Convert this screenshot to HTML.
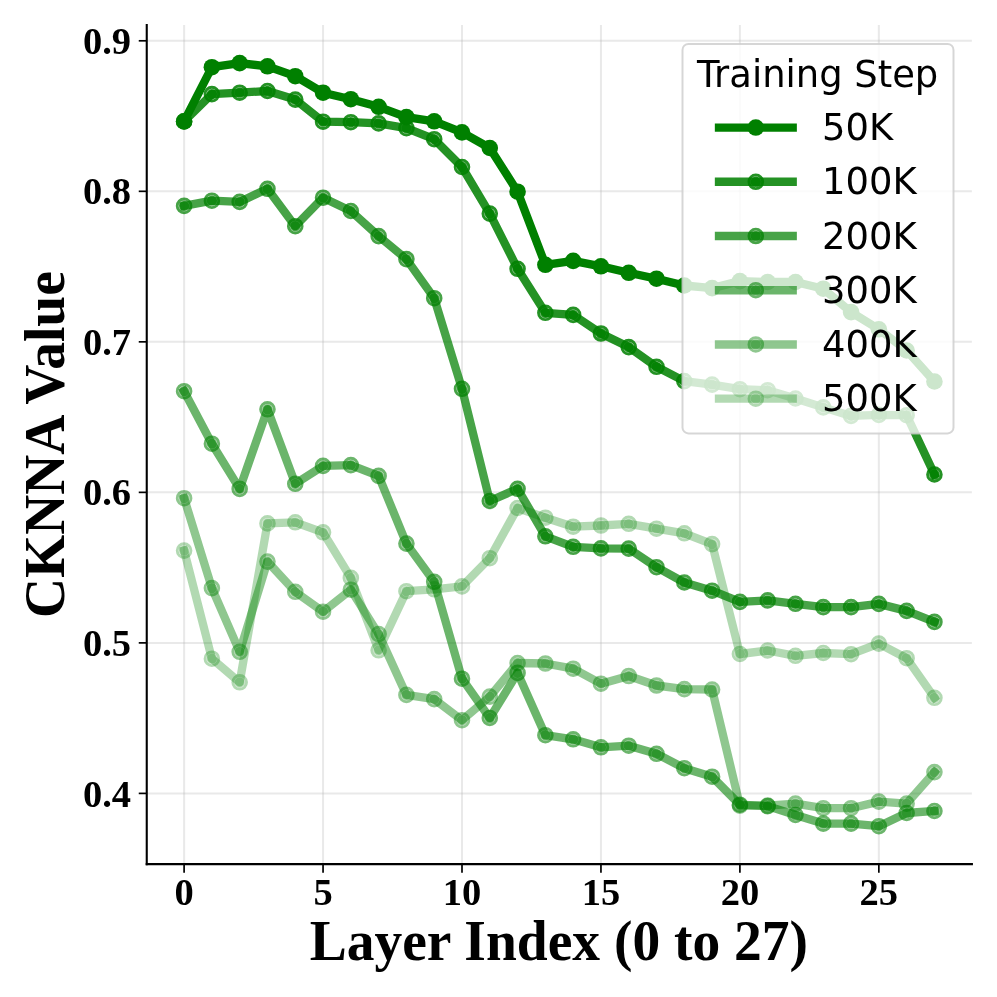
<!DOCTYPE html><html><head><meta charset="utf-8"><title>CKNNA Value vs Layer Index</title><style>html,body{margin:0;padding:0;background:#fff;overflow:hidden;}svg{display:block;}</style></head><body>
<svg width="997" height="997" viewBox="0 0 997 997">
<rect x="0" y="0" width="997" height="997" fill="#ffffff"/>
<defs><clipPath id="ax"><rect x="146.75" y="25.0" width="825.15" height="839.1"/></clipPath></defs>
<g stroke="#b0b0b0" stroke-opacity="0.28" stroke-width="2.0" fill="none">
<line x1="184.10" y1="25.0" x2="184.10" y2="864.1"/>
<line x1="323.05" y1="25.0" x2="323.05" y2="864.1"/>
<line x1="462.00" y1="25.0" x2="462.00" y2="864.1"/>
<line x1="600.95" y1="25.0" x2="600.95" y2="864.1"/>
<line x1="739.90" y1="25.0" x2="739.90" y2="864.1"/>
<line x1="878.85" y1="25.0" x2="878.85" y2="864.1"/>
<line x1="146.75" y1="793.40" x2="971.9" y2="793.40"/>
<line x1="146.75" y1="642.88" x2="971.9" y2="642.88"/>
<line x1="146.75" y1="492.36" x2="971.9" y2="492.36"/>
<line x1="146.75" y1="341.84" x2="971.9" y2="341.84"/>
<line x1="146.75" y1="191.32" x2="971.9" y2="191.32"/>
<line x1="146.75" y1="40.80" x2="971.9" y2="40.80"/>
</g>
<g clip-path="url(#ax)">
<g opacity="1">
<polyline points="184.10,121.40 211.89,67.20 239.68,63.10 267.47,66.30 295.26,76.20 323.05,92.70 350.84,99.20 378.63,106.80 406.42,117.10 434.21,121.30 462.00,132.40 489.79,148.00 517.58,191.70 545.37,264.80 573.16,260.90 600.95,266.30 628.74,272.80 656.53,278.70 684.32,285.50 712.11,288.10 739.90,281.10 767.69,282.00 795.48,282.00 823.27,288.70 851.06,312.10 878.85,329.30 906.64,350.50 934.43,381.50" fill="none" stroke="#008000" stroke-opacity="1.0" stroke-width="8.33" stroke-linejoin="round" stroke-linecap="square"/>
<circle cx="184.10" cy="121.40" r="8.3" fill="#008000"/>
<circle cx="211.89" cy="67.20" r="8.3" fill="#008000"/>
<circle cx="239.68" cy="63.10" r="8.3" fill="#008000"/>
<circle cx="267.47" cy="66.30" r="8.3" fill="#008000"/>
<circle cx="295.26" cy="76.20" r="8.3" fill="#008000"/>
<circle cx="323.05" cy="92.70" r="8.3" fill="#008000"/>
<circle cx="350.84" cy="99.20" r="8.3" fill="#008000"/>
<circle cx="378.63" cy="106.80" r="8.3" fill="#008000"/>
<circle cx="406.42" cy="117.10" r="8.3" fill="#008000"/>
<circle cx="434.21" cy="121.30" r="8.3" fill="#008000"/>
<circle cx="462.00" cy="132.40" r="8.3" fill="#008000"/>
<circle cx="489.79" cy="148.00" r="8.3" fill="#008000"/>
<circle cx="517.58" cy="191.70" r="8.3" fill="#008000"/>
<circle cx="545.37" cy="264.80" r="8.3" fill="#008000"/>
<circle cx="573.16" cy="260.90" r="8.3" fill="#008000"/>
<circle cx="600.95" cy="266.30" r="8.3" fill="#008000"/>
<circle cx="628.74" cy="272.80" r="8.3" fill="#008000"/>
<circle cx="656.53" cy="278.70" r="8.3" fill="#008000"/>
<circle cx="684.32" cy="285.50" r="8.3" fill="#008000"/>
<circle cx="712.11" cy="288.10" r="8.3" fill="#008000"/>
<circle cx="739.90" cy="281.10" r="8.3" fill="#008000"/>
<circle cx="767.69" cy="282.00" r="8.3" fill="#008000"/>
<circle cx="795.48" cy="282.00" r="8.3" fill="#008000"/>
<circle cx="823.27" cy="288.70" r="8.3" fill="#008000"/>
<circle cx="851.06" cy="312.10" r="8.3" fill="#008000"/>
<circle cx="878.85" cy="329.30" r="8.3" fill="#008000"/>
<circle cx="906.64" cy="350.50" r="8.3" fill="#008000"/>
<circle cx="934.43" cy="381.50" r="8.3" fill="#008000"/>
</g>
<g opacity="1">
<polyline points="184.10,121.40 211.89,94.10 239.68,92.70 267.47,91.00 295.26,99.60 323.05,121.70 350.84,122.20 378.63,123.40 406.42,128.10 434.21,139.20 462.00,167.00 489.79,213.60 517.58,268.80 545.37,312.80 573.16,314.90 600.95,333.50 628.74,347.10 656.53,366.80 684.32,381.10 712.11,384.60 739.90,389.20 767.69,390.20 795.48,398.50 823.27,407.40 851.06,415.90 878.85,414.90 906.64,415.20 934.43,474.50" fill="none" stroke="#008000" stroke-opacity="0.86" stroke-width="8.33" stroke-linejoin="round" stroke-linecap="square"/>
<path d="M175.80,121.40a8.3,8.3 0 1,0 16.60,0a8.3,8.3 0 1,0 -16.60,0ZM178.68,121.40a5.42,5.42 0 1,0 10.84,0a5.42,5.42 0 1,0 -10.84,0ZM178.94,121.40a5.16,5.16 0 1,0 10.32,0a5.16,5.16 0 1,0 -10.32,0Z" fill="#008000" fill-opacity="0.86" fill-rule="evenodd"/>
<path d="M203.59,94.10a8.3,8.3 0 1,0 16.60,0a8.3,8.3 0 1,0 -16.60,0ZM206.47,94.10a5.42,5.42 0 1,0 10.84,0a5.42,5.42 0 1,0 -10.84,0ZM206.73,94.10a5.16,5.16 0 1,0 10.32,0a5.16,5.16 0 1,0 -10.32,0Z" fill="#008000" fill-opacity="0.86" fill-rule="evenodd"/>
<path d="M231.38,92.70a8.3,8.3 0 1,0 16.60,0a8.3,8.3 0 1,0 -16.60,0ZM234.26,92.70a5.42,5.42 0 1,0 10.84,0a5.42,5.42 0 1,0 -10.84,0ZM234.52,92.70a5.16,5.16 0 1,0 10.32,0a5.16,5.16 0 1,0 -10.32,0Z" fill="#008000" fill-opacity="0.86" fill-rule="evenodd"/>
<path d="M259.17,91.00a8.3,8.3 0 1,0 16.60,0a8.3,8.3 0 1,0 -16.60,0ZM262.05,91.00a5.42,5.42 0 1,0 10.84,0a5.42,5.42 0 1,0 -10.84,0ZM262.31,91.00a5.16,5.16 0 1,0 10.32,0a5.16,5.16 0 1,0 -10.32,0Z" fill="#008000" fill-opacity="0.86" fill-rule="evenodd"/>
<path d="M286.96,99.60a8.3,8.3 0 1,0 16.60,0a8.3,8.3 0 1,0 -16.60,0ZM289.84,99.60a5.42,5.42 0 1,0 10.84,0a5.42,5.42 0 1,0 -10.84,0ZM290.10,99.60a5.16,5.16 0 1,0 10.32,0a5.16,5.16 0 1,0 -10.32,0Z" fill="#008000" fill-opacity="0.86" fill-rule="evenodd"/>
<path d="M314.75,121.70a8.3,8.3 0 1,0 16.60,0a8.3,8.3 0 1,0 -16.60,0ZM317.63,121.70a5.42,5.42 0 1,0 10.84,0a5.42,5.42 0 1,0 -10.84,0ZM317.89,121.70a5.16,5.16 0 1,0 10.32,0a5.16,5.16 0 1,0 -10.32,0Z" fill="#008000" fill-opacity="0.86" fill-rule="evenodd"/>
<path d="M342.54,122.20a8.3,8.3 0 1,0 16.60,0a8.3,8.3 0 1,0 -16.60,0ZM345.42,122.20a5.42,5.42 0 1,0 10.84,0a5.42,5.42 0 1,0 -10.84,0ZM345.68,122.20a5.16,5.16 0 1,0 10.32,0a5.16,5.16 0 1,0 -10.32,0Z" fill="#008000" fill-opacity="0.86" fill-rule="evenodd"/>
<path d="M370.33,123.40a8.3,8.3 0 1,0 16.60,0a8.3,8.3 0 1,0 -16.60,0ZM373.21,123.40a5.42,5.42 0 1,0 10.84,0a5.42,5.42 0 1,0 -10.84,0ZM373.47,123.40a5.16,5.16 0 1,0 10.32,0a5.16,5.16 0 1,0 -10.32,0Z" fill="#008000" fill-opacity="0.86" fill-rule="evenodd"/>
<path d="M398.12,128.10a8.3,8.3 0 1,0 16.60,0a8.3,8.3 0 1,0 -16.60,0ZM401.00,128.10a5.42,5.42 0 1,0 10.84,0a5.42,5.42 0 1,0 -10.84,0ZM401.26,128.10a5.16,5.16 0 1,0 10.32,0a5.16,5.16 0 1,0 -10.32,0Z" fill="#008000" fill-opacity="0.86" fill-rule="evenodd"/>
<path d="M425.91,139.20a8.3,8.3 0 1,0 16.60,0a8.3,8.3 0 1,0 -16.60,0ZM428.79,139.20a5.42,5.42 0 1,0 10.84,0a5.42,5.42 0 1,0 -10.84,0ZM429.05,139.20a5.16,5.16 0 1,0 10.32,0a5.16,5.16 0 1,0 -10.32,0Z" fill="#008000" fill-opacity="0.86" fill-rule="evenodd"/>
<path d="M453.70,167.00a8.3,8.3 0 1,0 16.60,0a8.3,8.3 0 1,0 -16.60,0ZM456.58,167.00a5.42,5.42 0 1,0 10.84,0a5.42,5.42 0 1,0 -10.84,0ZM456.84,167.00a5.16,5.16 0 1,0 10.32,0a5.16,5.16 0 1,0 -10.32,0Z" fill="#008000" fill-opacity="0.86" fill-rule="evenodd"/>
<path d="M481.49,213.60a8.3,8.3 0 1,0 16.60,0a8.3,8.3 0 1,0 -16.60,0ZM484.37,213.60a5.42,5.42 0 1,0 10.84,0a5.42,5.42 0 1,0 -10.84,0ZM484.63,213.60a5.16,5.16 0 1,0 10.32,0a5.16,5.16 0 1,0 -10.32,0Z" fill="#008000" fill-opacity="0.86" fill-rule="evenodd"/>
<path d="M509.28,268.80a8.3,8.3 0 1,0 16.60,0a8.3,8.3 0 1,0 -16.60,0ZM512.16,268.80a5.42,5.42 0 1,0 10.84,0a5.42,5.42 0 1,0 -10.84,0ZM512.42,268.80a5.16,5.16 0 1,0 10.32,0a5.16,5.16 0 1,0 -10.32,0Z" fill="#008000" fill-opacity="0.86" fill-rule="evenodd"/>
<path d="M537.07,312.80a8.3,8.3 0 1,0 16.60,0a8.3,8.3 0 1,0 -16.60,0ZM539.95,312.80a5.42,5.42 0 1,0 10.84,0a5.42,5.42 0 1,0 -10.84,0ZM540.21,312.80a5.16,5.16 0 1,0 10.32,0a5.16,5.16 0 1,0 -10.32,0Z" fill="#008000" fill-opacity="0.86" fill-rule="evenodd"/>
<path d="M564.86,314.90a8.3,8.3 0 1,0 16.60,0a8.3,8.3 0 1,0 -16.60,0ZM567.74,314.90a5.42,5.42 0 1,0 10.84,0a5.42,5.42 0 1,0 -10.84,0ZM568.00,314.90a5.16,5.16 0 1,0 10.32,0a5.16,5.16 0 1,0 -10.32,0Z" fill="#008000" fill-opacity="0.86" fill-rule="evenodd"/>
<path d="M592.65,333.50a8.3,8.3 0 1,0 16.60,0a8.3,8.3 0 1,0 -16.60,0ZM595.53,333.50a5.42,5.42 0 1,0 10.84,0a5.42,5.42 0 1,0 -10.84,0ZM595.79,333.50a5.16,5.16 0 1,0 10.32,0a5.16,5.16 0 1,0 -10.32,0Z" fill="#008000" fill-opacity="0.86" fill-rule="evenodd"/>
<path d="M620.44,347.10a8.3,8.3 0 1,0 16.60,0a8.3,8.3 0 1,0 -16.60,0ZM623.32,347.10a5.42,5.42 0 1,0 10.84,0a5.42,5.42 0 1,0 -10.84,0ZM623.58,347.10a5.16,5.16 0 1,0 10.32,0a5.16,5.16 0 1,0 -10.32,0Z" fill="#008000" fill-opacity="0.86" fill-rule="evenodd"/>
<path d="M648.23,366.80a8.3,8.3 0 1,0 16.60,0a8.3,8.3 0 1,0 -16.60,0ZM651.11,366.80a5.42,5.42 0 1,0 10.84,0a5.42,5.42 0 1,0 -10.84,0ZM651.37,366.80a5.16,5.16 0 1,0 10.32,0a5.16,5.16 0 1,0 -10.32,0Z" fill="#008000" fill-opacity="0.86" fill-rule="evenodd"/>
<path d="M676.02,381.10a8.3,8.3 0 1,0 16.60,0a8.3,8.3 0 1,0 -16.60,0ZM678.90,381.10a5.42,5.42 0 1,0 10.84,0a5.42,5.42 0 1,0 -10.84,0ZM679.16,381.10a5.16,5.16 0 1,0 10.32,0a5.16,5.16 0 1,0 -10.32,0Z" fill="#008000" fill-opacity="0.86" fill-rule="evenodd"/>
<path d="M703.81,384.60a8.3,8.3 0 1,0 16.60,0a8.3,8.3 0 1,0 -16.60,0ZM706.69,384.60a5.42,5.42 0 1,0 10.84,0a5.42,5.42 0 1,0 -10.84,0ZM706.95,384.60a5.16,5.16 0 1,0 10.32,0a5.16,5.16 0 1,0 -10.32,0Z" fill="#008000" fill-opacity="0.86" fill-rule="evenodd"/>
<path d="M731.60,389.20a8.3,8.3 0 1,0 16.60,0a8.3,8.3 0 1,0 -16.60,0ZM734.48,389.20a5.42,5.42 0 1,0 10.84,0a5.42,5.42 0 1,0 -10.84,0ZM734.74,389.20a5.16,5.16 0 1,0 10.32,0a5.16,5.16 0 1,0 -10.32,0Z" fill="#008000" fill-opacity="0.86" fill-rule="evenodd"/>
<path d="M759.39,390.20a8.3,8.3 0 1,0 16.60,0a8.3,8.3 0 1,0 -16.60,0ZM762.27,390.20a5.42,5.42 0 1,0 10.84,0a5.42,5.42 0 1,0 -10.84,0ZM762.53,390.20a5.16,5.16 0 1,0 10.32,0a5.16,5.16 0 1,0 -10.32,0Z" fill="#008000" fill-opacity="0.86" fill-rule="evenodd"/>
<path d="M787.18,398.50a8.3,8.3 0 1,0 16.60,0a8.3,8.3 0 1,0 -16.60,0ZM790.06,398.50a5.42,5.42 0 1,0 10.84,0a5.42,5.42 0 1,0 -10.84,0ZM790.32,398.50a5.16,5.16 0 1,0 10.32,0a5.16,5.16 0 1,0 -10.32,0Z" fill="#008000" fill-opacity="0.86" fill-rule="evenodd"/>
<path d="M814.97,407.40a8.3,8.3 0 1,0 16.60,0a8.3,8.3 0 1,0 -16.60,0ZM817.85,407.40a5.42,5.42 0 1,0 10.84,0a5.42,5.42 0 1,0 -10.84,0ZM818.11,407.40a5.16,5.16 0 1,0 10.32,0a5.16,5.16 0 1,0 -10.32,0Z" fill="#008000" fill-opacity="0.86" fill-rule="evenodd"/>
<path d="M842.76,415.90a8.3,8.3 0 1,0 16.60,0a8.3,8.3 0 1,0 -16.60,0ZM845.64,415.90a5.42,5.42 0 1,0 10.84,0a5.42,5.42 0 1,0 -10.84,0ZM845.90,415.90a5.16,5.16 0 1,0 10.32,0a5.16,5.16 0 1,0 -10.32,0Z" fill="#008000" fill-opacity="0.86" fill-rule="evenodd"/>
<path d="M870.55,414.90a8.3,8.3 0 1,0 16.60,0a8.3,8.3 0 1,0 -16.60,0ZM873.43,414.90a5.42,5.42 0 1,0 10.84,0a5.42,5.42 0 1,0 -10.84,0ZM873.69,414.90a5.16,5.16 0 1,0 10.32,0a5.16,5.16 0 1,0 -10.32,0Z" fill="#008000" fill-opacity="0.86" fill-rule="evenodd"/>
<path d="M898.34,415.20a8.3,8.3 0 1,0 16.60,0a8.3,8.3 0 1,0 -16.60,0ZM901.22,415.20a5.42,5.42 0 1,0 10.84,0a5.42,5.42 0 1,0 -10.84,0ZM901.48,415.20a5.16,5.16 0 1,0 10.32,0a5.16,5.16 0 1,0 -10.32,0Z" fill="#008000" fill-opacity="0.86" fill-rule="evenodd"/>
<path d="M926.13,474.50a8.3,8.3 0 1,0 16.60,0a8.3,8.3 0 1,0 -16.60,0ZM929.01,474.50a5.42,5.42 0 1,0 10.84,0a5.42,5.42 0 1,0 -10.84,0ZM929.27,474.50a5.16,5.16 0 1,0 10.32,0a5.16,5.16 0 1,0 -10.32,0Z" fill="#008000" fill-opacity="0.86" fill-rule="evenodd"/>
</g>
<g opacity="1">
<polyline points="184.10,205.90 211.89,200.70 239.68,201.90 267.47,188.80 295.26,226.20 323.05,197.70 350.84,211.00 378.63,236.10 406.42,259.10 434.21,298.20 462.00,388.80 489.79,501.00 517.58,488.80 545.37,536.30 573.16,546.80 600.95,548.40 628.74,548.60 656.53,567.20 684.32,582.50 712.11,590.70 739.90,601.90 767.69,600.40 795.48,603.80 823.27,607.10 851.06,607.10 878.85,603.90 906.64,610.90 934.43,621.90" fill="none" stroke="#008000" stroke-opacity="0.72" stroke-width="8.33" stroke-linejoin="round" stroke-linecap="square"/>
<path d="M175.80,205.90a8.3,8.3 0 1,0 16.60,0a8.3,8.3 0 1,0 -16.60,0ZM178.68,205.90a5.42,5.42 0 1,0 10.84,0a5.42,5.42 0 1,0 -10.84,0ZM178.94,205.90a5.16,5.16 0 1,0 10.32,0a5.16,5.16 0 1,0 -10.32,0Z" fill="#008000" fill-opacity="0.72" fill-rule="evenodd"/>
<path d="M203.59,200.70a8.3,8.3 0 1,0 16.60,0a8.3,8.3 0 1,0 -16.60,0ZM206.47,200.70a5.42,5.42 0 1,0 10.84,0a5.42,5.42 0 1,0 -10.84,0ZM206.73,200.70a5.16,5.16 0 1,0 10.32,0a5.16,5.16 0 1,0 -10.32,0Z" fill="#008000" fill-opacity="0.72" fill-rule="evenodd"/>
<path d="M231.38,201.90a8.3,8.3 0 1,0 16.60,0a8.3,8.3 0 1,0 -16.60,0ZM234.26,201.90a5.42,5.42 0 1,0 10.84,0a5.42,5.42 0 1,0 -10.84,0ZM234.52,201.90a5.16,5.16 0 1,0 10.32,0a5.16,5.16 0 1,0 -10.32,0Z" fill="#008000" fill-opacity="0.72" fill-rule="evenodd"/>
<path d="M259.17,188.80a8.3,8.3 0 1,0 16.60,0a8.3,8.3 0 1,0 -16.60,0ZM262.05,188.80a5.42,5.42 0 1,0 10.84,0a5.42,5.42 0 1,0 -10.84,0ZM262.31,188.80a5.16,5.16 0 1,0 10.32,0a5.16,5.16 0 1,0 -10.32,0Z" fill="#008000" fill-opacity="0.72" fill-rule="evenodd"/>
<path d="M286.96,226.20a8.3,8.3 0 1,0 16.60,0a8.3,8.3 0 1,0 -16.60,0ZM289.84,226.20a5.42,5.42 0 1,0 10.84,0a5.42,5.42 0 1,0 -10.84,0ZM290.10,226.20a5.16,5.16 0 1,0 10.32,0a5.16,5.16 0 1,0 -10.32,0Z" fill="#008000" fill-opacity="0.72" fill-rule="evenodd"/>
<path d="M314.75,197.70a8.3,8.3 0 1,0 16.60,0a8.3,8.3 0 1,0 -16.60,0ZM317.63,197.70a5.42,5.42 0 1,0 10.84,0a5.42,5.42 0 1,0 -10.84,0ZM317.89,197.70a5.16,5.16 0 1,0 10.32,0a5.16,5.16 0 1,0 -10.32,0Z" fill="#008000" fill-opacity="0.72" fill-rule="evenodd"/>
<path d="M342.54,211.00a8.3,8.3 0 1,0 16.60,0a8.3,8.3 0 1,0 -16.60,0ZM345.42,211.00a5.42,5.42 0 1,0 10.84,0a5.42,5.42 0 1,0 -10.84,0ZM345.68,211.00a5.16,5.16 0 1,0 10.32,0a5.16,5.16 0 1,0 -10.32,0Z" fill="#008000" fill-opacity="0.72" fill-rule="evenodd"/>
<path d="M370.33,236.10a8.3,8.3 0 1,0 16.60,0a8.3,8.3 0 1,0 -16.60,0ZM373.21,236.10a5.42,5.42 0 1,0 10.84,0a5.42,5.42 0 1,0 -10.84,0ZM373.47,236.10a5.16,5.16 0 1,0 10.32,0a5.16,5.16 0 1,0 -10.32,0Z" fill="#008000" fill-opacity="0.72" fill-rule="evenodd"/>
<path d="M398.12,259.10a8.3,8.3 0 1,0 16.60,0a8.3,8.3 0 1,0 -16.60,0ZM401.00,259.10a5.42,5.42 0 1,0 10.84,0a5.42,5.42 0 1,0 -10.84,0ZM401.26,259.10a5.16,5.16 0 1,0 10.32,0a5.16,5.16 0 1,0 -10.32,0Z" fill="#008000" fill-opacity="0.72" fill-rule="evenodd"/>
<path d="M425.91,298.20a8.3,8.3 0 1,0 16.60,0a8.3,8.3 0 1,0 -16.60,0ZM428.79,298.20a5.42,5.42 0 1,0 10.84,0a5.42,5.42 0 1,0 -10.84,0ZM429.05,298.20a5.16,5.16 0 1,0 10.32,0a5.16,5.16 0 1,0 -10.32,0Z" fill="#008000" fill-opacity="0.72" fill-rule="evenodd"/>
<path d="M453.70,388.80a8.3,8.3 0 1,0 16.60,0a8.3,8.3 0 1,0 -16.60,0ZM456.58,388.80a5.42,5.42 0 1,0 10.84,0a5.42,5.42 0 1,0 -10.84,0ZM456.84,388.80a5.16,5.16 0 1,0 10.32,0a5.16,5.16 0 1,0 -10.32,0Z" fill="#008000" fill-opacity="0.72" fill-rule="evenodd"/>
<path d="M481.49,501.00a8.3,8.3 0 1,0 16.60,0a8.3,8.3 0 1,0 -16.60,0ZM484.37,501.00a5.42,5.42 0 1,0 10.84,0a5.42,5.42 0 1,0 -10.84,0ZM484.63,501.00a5.16,5.16 0 1,0 10.32,0a5.16,5.16 0 1,0 -10.32,0Z" fill="#008000" fill-opacity="0.72" fill-rule="evenodd"/>
<path d="M509.28,488.80a8.3,8.3 0 1,0 16.60,0a8.3,8.3 0 1,0 -16.60,0ZM512.16,488.80a5.42,5.42 0 1,0 10.84,0a5.42,5.42 0 1,0 -10.84,0ZM512.42,488.80a5.16,5.16 0 1,0 10.32,0a5.16,5.16 0 1,0 -10.32,0Z" fill="#008000" fill-opacity="0.72" fill-rule="evenodd"/>
<path d="M537.07,536.30a8.3,8.3 0 1,0 16.60,0a8.3,8.3 0 1,0 -16.60,0ZM539.95,536.30a5.42,5.42 0 1,0 10.84,0a5.42,5.42 0 1,0 -10.84,0ZM540.21,536.30a5.16,5.16 0 1,0 10.32,0a5.16,5.16 0 1,0 -10.32,0Z" fill="#008000" fill-opacity="0.72" fill-rule="evenodd"/>
<path d="M564.86,546.80a8.3,8.3 0 1,0 16.60,0a8.3,8.3 0 1,0 -16.60,0ZM567.74,546.80a5.42,5.42 0 1,0 10.84,0a5.42,5.42 0 1,0 -10.84,0ZM568.00,546.80a5.16,5.16 0 1,0 10.32,0a5.16,5.16 0 1,0 -10.32,0Z" fill="#008000" fill-opacity="0.72" fill-rule="evenodd"/>
<path d="M592.65,548.40a8.3,8.3 0 1,0 16.60,0a8.3,8.3 0 1,0 -16.60,0ZM595.53,548.40a5.42,5.42 0 1,0 10.84,0a5.42,5.42 0 1,0 -10.84,0ZM595.79,548.40a5.16,5.16 0 1,0 10.32,0a5.16,5.16 0 1,0 -10.32,0Z" fill="#008000" fill-opacity="0.72" fill-rule="evenodd"/>
<path d="M620.44,548.60a8.3,8.3 0 1,0 16.60,0a8.3,8.3 0 1,0 -16.60,0ZM623.32,548.60a5.42,5.42 0 1,0 10.84,0a5.42,5.42 0 1,0 -10.84,0ZM623.58,548.60a5.16,5.16 0 1,0 10.32,0a5.16,5.16 0 1,0 -10.32,0Z" fill="#008000" fill-opacity="0.72" fill-rule="evenodd"/>
<path d="M648.23,567.20a8.3,8.3 0 1,0 16.60,0a8.3,8.3 0 1,0 -16.60,0ZM651.11,567.20a5.42,5.42 0 1,0 10.84,0a5.42,5.42 0 1,0 -10.84,0ZM651.37,567.20a5.16,5.16 0 1,0 10.32,0a5.16,5.16 0 1,0 -10.32,0Z" fill="#008000" fill-opacity="0.72" fill-rule="evenodd"/>
<path d="M676.02,582.50a8.3,8.3 0 1,0 16.60,0a8.3,8.3 0 1,0 -16.60,0ZM678.90,582.50a5.42,5.42 0 1,0 10.84,0a5.42,5.42 0 1,0 -10.84,0ZM679.16,582.50a5.16,5.16 0 1,0 10.32,0a5.16,5.16 0 1,0 -10.32,0Z" fill="#008000" fill-opacity="0.72" fill-rule="evenodd"/>
<path d="M703.81,590.70a8.3,8.3 0 1,0 16.60,0a8.3,8.3 0 1,0 -16.60,0ZM706.69,590.70a5.42,5.42 0 1,0 10.84,0a5.42,5.42 0 1,0 -10.84,0ZM706.95,590.70a5.16,5.16 0 1,0 10.32,0a5.16,5.16 0 1,0 -10.32,0Z" fill="#008000" fill-opacity="0.72" fill-rule="evenodd"/>
<path d="M731.60,601.90a8.3,8.3 0 1,0 16.60,0a8.3,8.3 0 1,0 -16.60,0ZM734.48,601.90a5.42,5.42 0 1,0 10.84,0a5.42,5.42 0 1,0 -10.84,0ZM734.74,601.90a5.16,5.16 0 1,0 10.32,0a5.16,5.16 0 1,0 -10.32,0Z" fill="#008000" fill-opacity="0.72" fill-rule="evenodd"/>
<path d="M759.39,600.40a8.3,8.3 0 1,0 16.60,0a8.3,8.3 0 1,0 -16.60,0ZM762.27,600.40a5.42,5.42 0 1,0 10.84,0a5.42,5.42 0 1,0 -10.84,0ZM762.53,600.40a5.16,5.16 0 1,0 10.32,0a5.16,5.16 0 1,0 -10.32,0Z" fill="#008000" fill-opacity="0.72" fill-rule="evenodd"/>
<path d="M787.18,603.80a8.3,8.3 0 1,0 16.60,0a8.3,8.3 0 1,0 -16.60,0ZM790.06,603.80a5.42,5.42 0 1,0 10.84,0a5.42,5.42 0 1,0 -10.84,0ZM790.32,603.80a5.16,5.16 0 1,0 10.32,0a5.16,5.16 0 1,0 -10.32,0Z" fill="#008000" fill-opacity="0.72" fill-rule="evenodd"/>
<path d="M814.97,607.10a8.3,8.3 0 1,0 16.60,0a8.3,8.3 0 1,0 -16.60,0ZM817.85,607.10a5.42,5.42 0 1,0 10.84,0a5.42,5.42 0 1,0 -10.84,0ZM818.11,607.10a5.16,5.16 0 1,0 10.32,0a5.16,5.16 0 1,0 -10.32,0Z" fill="#008000" fill-opacity="0.72" fill-rule="evenodd"/>
<path d="M842.76,607.10a8.3,8.3 0 1,0 16.60,0a8.3,8.3 0 1,0 -16.60,0ZM845.64,607.10a5.42,5.42 0 1,0 10.84,0a5.42,5.42 0 1,0 -10.84,0ZM845.90,607.10a5.16,5.16 0 1,0 10.32,0a5.16,5.16 0 1,0 -10.32,0Z" fill="#008000" fill-opacity="0.72" fill-rule="evenodd"/>
<path d="M870.55,603.90a8.3,8.3 0 1,0 16.60,0a8.3,8.3 0 1,0 -16.60,0ZM873.43,603.90a5.42,5.42 0 1,0 10.84,0a5.42,5.42 0 1,0 -10.84,0ZM873.69,603.90a5.16,5.16 0 1,0 10.32,0a5.16,5.16 0 1,0 -10.32,0Z" fill="#008000" fill-opacity="0.72" fill-rule="evenodd"/>
<path d="M898.34,610.90a8.3,8.3 0 1,0 16.60,0a8.3,8.3 0 1,0 -16.60,0ZM901.22,610.90a5.42,5.42 0 1,0 10.84,0a5.42,5.42 0 1,0 -10.84,0ZM901.48,610.90a5.16,5.16 0 1,0 10.32,0a5.16,5.16 0 1,0 -10.32,0Z" fill="#008000" fill-opacity="0.72" fill-rule="evenodd"/>
<path d="M926.13,621.90a8.3,8.3 0 1,0 16.60,0a8.3,8.3 0 1,0 -16.60,0ZM929.01,621.90a5.42,5.42 0 1,0 10.84,0a5.42,5.42 0 1,0 -10.84,0ZM929.27,621.90a5.16,5.16 0 1,0 10.32,0a5.16,5.16 0 1,0 -10.32,0Z" fill="#008000" fill-opacity="0.72" fill-rule="evenodd"/>
</g>
<g opacity="1">
<polyline points="184.10,391.20 211.89,443.70 239.68,488.90 267.47,409.30 295.26,483.80 323.05,465.90 350.84,465.10 378.63,475.90 406.42,543.60 434.21,581.80 462.00,678.70 489.79,718.00 517.58,672.90 545.37,735.20 573.16,739.30 600.95,747.30 628.74,745.70 656.53,753.80 684.32,768.20 712.11,776.70 739.90,804.70 767.69,806.10 795.48,815.00 823.27,823.60 851.06,823.60 878.85,826.20 906.64,813.00 934.43,811.00" fill="none" stroke="#008000" stroke-opacity="0.58" stroke-width="8.33" stroke-linejoin="round" stroke-linecap="square"/>
<path d="M175.80,391.20a8.3,8.3 0 1,0 16.60,0a8.3,8.3 0 1,0 -16.60,0ZM178.68,391.20a5.42,5.42 0 1,0 10.84,0a5.42,5.42 0 1,0 -10.84,0ZM178.94,391.20a5.16,5.16 0 1,0 10.32,0a5.16,5.16 0 1,0 -10.32,0Z" fill="#008000" fill-opacity="0.58" fill-rule="evenodd"/>
<path d="M203.59,443.70a8.3,8.3 0 1,0 16.60,0a8.3,8.3 0 1,0 -16.60,0ZM206.47,443.70a5.42,5.42 0 1,0 10.84,0a5.42,5.42 0 1,0 -10.84,0ZM206.73,443.70a5.16,5.16 0 1,0 10.32,0a5.16,5.16 0 1,0 -10.32,0Z" fill="#008000" fill-opacity="0.58" fill-rule="evenodd"/>
<path d="M231.38,488.90a8.3,8.3 0 1,0 16.60,0a8.3,8.3 0 1,0 -16.60,0ZM234.26,488.90a5.42,5.42 0 1,0 10.84,0a5.42,5.42 0 1,0 -10.84,0ZM234.52,488.90a5.16,5.16 0 1,0 10.32,0a5.16,5.16 0 1,0 -10.32,0Z" fill="#008000" fill-opacity="0.58" fill-rule="evenodd"/>
<path d="M259.17,409.30a8.3,8.3 0 1,0 16.60,0a8.3,8.3 0 1,0 -16.60,0ZM262.05,409.30a5.42,5.42 0 1,0 10.84,0a5.42,5.42 0 1,0 -10.84,0ZM262.31,409.30a5.16,5.16 0 1,0 10.32,0a5.16,5.16 0 1,0 -10.32,0Z" fill="#008000" fill-opacity="0.58" fill-rule="evenodd"/>
<path d="M286.96,483.80a8.3,8.3 0 1,0 16.60,0a8.3,8.3 0 1,0 -16.60,0ZM289.84,483.80a5.42,5.42 0 1,0 10.84,0a5.42,5.42 0 1,0 -10.84,0ZM290.10,483.80a5.16,5.16 0 1,0 10.32,0a5.16,5.16 0 1,0 -10.32,0Z" fill="#008000" fill-opacity="0.58" fill-rule="evenodd"/>
<path d="M314.75,465.90a8.3,8.3 0 1,0 16.60,0a8.3,8.3 0 1,0 -16.60,0ZM317.63,465.90a5.42,5.42 0 1,0 10.84,0a5.42,5.42 0 1,0 -10.84,0ZM317.89,465.90a5.16,5.16 0 1,0 10.32,0a5.16,5.16 0 1,0 -10.32,0Z" fill="#008000" fill-opacity="0.58" fill-rule="evenodd"/>
<path d="M342.54,465.10a8.3,8.3 0 1,0 16.60,0a8.3,8.3 0 1,0 -16.60,0ZM345.42,465.10a5.42,5.42 0 1,0 10.84,0a5.42,5.42 0 1,0 -10.84,0ZM345.68,465.10a5.16,5.16 0 1,0 10.32,0a5.16,5.16 0 1,0 -10.32,0Z" fill="#008000" fill-opacity="0.58" fill-rule="evenodd"/>
<path d="M370.33,475.90a8.3,8.3 0 1,0 16.60,0a8.3,8.3 0 1,0 -16.60,0ZM373.21,475.90a5.42,5.42 0 1,0 10.84,0a5.42,5.42 0 1,0 -10.84,0ZM373.47,475.90a5.16,5.16 0 1,0 10.32,0a5.16,5.16 0 1,0 -10.32,0Z" fill="#008000" fill-opacity="0.58" fill-rule="evenodd"/>
<path d="M398.12,543.60a8.3,8.3 0 1,0 16.60,0a8.3,8.3 0 1,0 -16.60,0ZM401.00,543.60a5.42,5.42 0 1,0 10.84,0a5.42,5.42 0 1,0 -10.84,0ZM401.26,543.60a5.16,5.16 0 1,0 10.32,0a5.16,5.16 0 1,0 -10.32,0Z" fill="#008000" fill-opacity="0.58" fill-rule="evenodd"/>
<path d="M425.91,581.80a8.3,8.3 0 1,0 16.60,0a8.3,8.3 0 1,0 -16.60,0ZM428.79,581.80a5.42,5.42 0 1,0 10.84,0a5.42,5.42 0 1,0 -10.84,0ZM429.05,581.80a5.16,5.16 0 1,0 10.32,0a5.16,5.16 0 1,0 -10.32,0Z" fill="#008000" fill-opacity="0.58" fill-rule="evenodd"/>
<path d="M453.70,678.70a8.3,8.3 0 1,0 16.60,0a8.3,8.3 0 1,0 -16.60,0ZM456.58,678.70a5.42,5.42 0 1,0 10.84,0a5.42,5.42 0 1,0 -10.84,0ZM456.84,678.70a5.16,5.16 0 1,0 10.32,0a5.16,5.16 0 1,0 -10.32,0Z" fill="#008000" fill-opacity="0.58" fill-rule="evenodd"/>
<path d="M481.49,718.00a8.3,8.3 0 1,0 16.60,0a8.3,8.3 0 1,0 -16.60,0ZM484.37,718.00a5.42,5.42 0 1,0 10.84,0a5.42,5.42 0 1,0 -10.84,0ZM484.63,718.00a5.16,5.16 0 1,0 10.32,0a5.16,5.16 0 1,0 -10.32,0Z" fill="#008000" fill-opacity="0.58" fill-rule="evenodd"/>
<path d="M509.28,672.90a8.3,8.3 0 1,0 16.60,0a8.3,8.3 0 1,0 -16.60,0ZM512.16,672.90a5.42,5.42 0 1,0 10.84,0a5.42,5.42 0 1,0 -10.84,0ZM512.42,672.90a5.16,5.16 0 1,0 10.32,0a5.16,5.16 0 1,0 -10.32,0Z" fill="#008000" fill-opacity="0.58" fill-rule="evenodd"/>
<path d="M537.07,735.20a8.3,8.3 0 1,0 16.60,0a8.3,8.3 0 1,0 -16.60,0ZM539.95,735.20a5.42,5.42 0 1,0 10.84,0a5.42,5.42 0 1,0 -10.84,0ZM540.21,735.20a5.16,5.16 0 1,0 10.32,0a5.16,5.16 0 1,0 -10.32,0Z" fill="#008000" fill-opacity="0.58" fill-rule="evenodd"/>
<path d="M564.86,739.30a8.3,8.3 0 1,0 16.60,0a8.3,8.3 0 1,0 -16.60,0ZM567.74,739.30a5.42,5.42 0 1,0 10.84,0a5.42,5.42 0 1,0 -10.84,0ZM568.00,739.30a5.16,5.16 0 1,0 10.32,0a5.16,5.16 0 1,0 -10.32,0Z" fill="#008000" fill-opacity="0.58" fill-rule="evenodd"/>
<path d="M592.65,747.30a8.3,8.3 0 1,0 16.60,0a8.3,8.3 0 1,0 -16.60,0ZM595.53,747.30a5.42,5.42 0 1,0 10.84,0a5.42,5.42 0 1,0 -10.84,0ZM595.79,747.30a5.16,5.16 0 1,0 10.32,0a5.16,5.16 0 1,0 -10.32,0Z" fill="#008000" fill-opacity="0.58" fill-rule="evenodd"/>
<path d="M620.44,745.70a8.3,8.3 0 1,0 16.60,0a8.3,8.3 0 1,0 -16.60,0ZM623.32,745.70a5.42,5.42 0 1,0 10.84,0a5.42,5.42 0 1,0 -10.84,0ZM623.58,745.70a5.16,5.16 0 1,0 10.32,0a5.16,5.16 0 1,0 -10.32,0Z" fill="#008000" fill-opacity="0.58" fill-rule="evenodd"/>
<path d="M648.23,753.80a8.3,8.3 0 1,0 16.60,0a8.3,8.3 0 1,0 -16.60,0ZM651.11,753.80a5.42,5.42 0 1,0 10.84,0a5.42,5.42 0 1,0 -10.84,0ZM651.37,753.80a5.16,5.16 0 1,0 10.32,0a5.16,5.16 0 1,0 -10.32,0Z" fill="#008000" fill-opacity="0.58" fill-rule="evenodd"/>
<path d="M676.02,768.20a8.3,8.3 0 1,0 16.60,0a8.3,8.3 0 1,0 -16.60,0ZM678.90,768.20a5.42,5.42 0 1,0 10.84,0a5.42,5.42 0 1,0 -10.84,0ZM679.16,768.20a5.16,5.16 0 1,0 10.32,0a5.16,5.16 0 1,0 -10.32,0Z" fill="#008000" fill-opacity="0.58" fill-rule="evenodd"/>
<path d="M703.81,776.70a8.3,8.3 0 1,0 16.60,0a8.3,8.3 0 1,0 -16.60,0ZM706.69,776.70a5.42,5.42 0 1,0 10.84,0a5.42,5.42 0 1,0 -10.84,0ZM706.95,776.70a5.16,5.16 0 1,0 10.32,0a5.16,5.16 0 1,0 -10.32,0Z" fill="#008000" fill-opacity="0.58" fill-rule="evenodd"/>
<path d="M731.60,804.70a8.3,8.3 0 1,0 16.60,0a8.3,8.3 0 1,0 -16.60,0ZM734.48,804.70a5.42,5.42 0 1,0 10.84,0a5.42,5.42 0 1,0 -10.84,0ZM734.74,804.70a5.16,5.16 0 1,0 10.32,0a5.16,5.16 0 1,0 -10.32,0Z" fill="#008000" fill-opacity="0.58" fill-rule="evenodd"/>
<path d="M759.39,806.10a8.3,8.3 0 1,0 16.60,0a8.3,8.3 0 1,0 -16.60,0ZM762.27,806.10a5.42,5.42 0 1,0 10.84,0a5.42,5.42 0 1,0 -10.84,0ZM762.53,806.10a5.16,5.16 0 1,0 10.32,0a5.16,5.16 0 1,0 -10.32,0Z" fill="#008000" fill-opacity="0.58" fill-rule="evenodd"/>
<path d="M787.18,815.00a8.3,8.3 0 1,0 16.60,0a8.3,8.3 0 1,0 -16.60,0ZM790.06,815.00a5.42,5.42 0 1,0 10.84,0a5.42,5.42 0 1,0 -10.84,0ZM790.32,815.00a5.16,5.16 0 1,0 10.32,0a5.16,5.16 0 1,0 -10.32,0Z" fill="#008000" fill-opacity="0.58" fill-rule="evenodd"/>
<path d="M814.97,823.60a8.3,8.3 0 1,0 16.60,0a8.3,8.3 0 1,0 -16.60,0ZM817.85,823.60a5.42,5.42 0 1,0 10.84,0a5.42,5.42 0 1,0 -10.84,0ZM818.11,823.60a5.16,5.16 0 1,0 10.32,0a5.16,5.16 0 1,0 -10.32,0Z" fill="#008000" fill-opacity="0.58" fill-rule="evenodd"/>
<path d="M842.76,823.60a8.3,8.3 0 1,0 16.60,0a8.3,8.3 0 1,0 -16.60,0ZM845.64,823.60a5.42,5.42 0 1,0 10.84,0a5.42,5.42 0 1,0 -10.84,0ZM845.90,823.60a5.16,5.16 0 1,0 10.32,0a5.16,5.16 0 1,0 -10.32,0Z" fill="#008000" fill-opacity="0.58" fill-rule="evenodd"/>
<path d="M870.55,826.20a8.3,8.3 0 1,0 16.60,0a8.3,8.3 0 1,0 -16.60,0ZM873.43,826.20a5.42,5.42 0 1,0 10.84,0a5.42,5.42 0 1,0 -10.84,0ZM873.69,826.20a5.16,5.16 0 1,0 10.32,0a5.16,5.16 0 1,0 -10.32,0Z" fill="#008000" fill-opacity="0.58" fill-rule="evenodd"/>
<path d="M898.34,813.00a8.3,8.3 0 1,0 16.60,0a8.3,8.3 0 1,0 -16.60,0ZM901.22,813.00a5.42,5.42 0 1,0 10.84,0a5.42,5.42 0 1,0 -10.84,0ZM901.48,813.00a5.16,5.16 0 1,0 10.32,0a5.16,5.16 0 1,0 -10.32,0Z" fill="#008000" fill-opacity="0.58" fill-rule="evenodd"/>
<path d="M926.13,811.00a8.3,8.3 0 1,0 16.60,0a8.3,8.3 0 1,0 -16.60,0ZM929.01,811.00a5.42,5.42 0 1,0 10.84,0a5.42,5.42 0 1,0 -10.84,0ZM929.27,811.00a5.16,5.16 0 1,0 10.32,0a5.16,5.16 0 1,0 -10.32,0Z" fill="#008000" fill-opacity="0.58" fill-rule="evenodd"/>
</g>
<g opacity="1">
<polyline points="184.10,498.20 211.89,588.10 239.68,651.80 267.47,561.60 295.26,591.80 323.05,611.70 350.84,589.70 378.63,634.10 406.42,694.90 434.21,699.10 462.00,720.20 489.79,696.60 517.58,663.00 545.37,663.50 573.16,668.70 600.95,683.70 628.74,676.00 656.53,685.50 684.32,689.10 712.11,689.50 739.90,805.60 767.69,805.60 795.48,803.60 823.27,808.20 851.06,808.20 878.85,801.60 906.64,803.60 934.43,772.10" fill="none" stroke="#008000" stroke-opacity="0.44" stroke-width="8.33" stroke-linejoin="round" stroke-linecap="square"/>
<path d="M175.80,498.20a8.3,8.3 0 1,0 16.60,0a8.3,8.3 0 1,0 -16.60,0ZM178.68,498.20a5.42,5.42 0 1,0 10.84,0a5.42,5.42 0 1,0 -10.84,0ZM178.94,498.20a5.16,5.16 0 1,0 10.32,0a5.16,5.16 0 1,0 -10.32,0Z" fill="#008000" fill-opacity="0.44" fill-rule="evenodd"/>
<path d="M203.59,588.10a8.3,8.3 0 1,0 16.60,0a8.3,8.3 0 1,0 -16.60,0ZM206.47,588.10a5.42,5.42 0 1,0 10.84,0a5.42,5.42 0 1,0 -10.84,0ZM206.73,588.10a5.16,5.16 0 1,0 10.32,0a5.16,5.16 0 1,0 -10.32,0Z" fill="#008000" fill-opacity="0.44" fill-rule="evenodd"/>
<path d="M231.38,651.80a8.3,8.3 0 1,0 16.60,0a8.3,8.3 0 1,0 -16.60,0ZM234.26,651.80a5.42,5.42 0 1,0 10.84,0a5.42,5.42 0 1,0 -10.84,0ZM234.52,651.80a5.16,5.16 0 1,0 10.32,0a5.16,5.16 0 1,0 -10.32,0Z" fill="#008000" fill-opacity="0.44" fill-rule="evenodd"/>
<path d="M259.17,561.60a8.3,8.3 0 1,0 16.60,0a8.3,8.3 0 1,0 -16.60,0ZM262.05,561.60a5.42,5.42 0 1,0 10.84,0a5.42,5.42 0 1,0 -10.84,0ZM262.31,561.60a5.16,5.16 0 1,0 10.32,0a5.16,5.16 0 1,0 -10.32,0Z" fill="#008000" fill-opacity="0.44" fill-rule="evenodd"/>
<path d="M286.96,591.80a8.3,8.3 0 1,0 16.60,0a8.3,8.3 0 1,0 -16.60,0ZM289.84,591.80a5.42,5.42 0 1,0 10.84,0a5.42,5.42 0 1,0 -10.84,0ZM290.10,591.80a5.16,5.16 0 1,0 10.32,0a5.16,5.16 0 1,0 -10.32,0Z" fill="#008000" fill-opacity="0.44" fill-rule="evenodd"/>
<path d="M314.75,611.70a8.3,8.3 0 1,0 16.60,0a8.3,8.3 0 1,0 -16.60,0ZM317.63,611.70a5.42,5.42 0 1,0 10.84,0a5.42,5.42 0 1,0 -10.84,0ZM317.89,611.70a5.16,5.16 0 1,0 10.32,0a5.16,5.16 0 1,0 -10.32,0Z" fill="#008000" fill-opacity="0.44" fill-rule="evenodd"/>
<path d="M342.54,589.70a8.3,8.3 0 1,0 16.60,0a8.3,8.3 0 1,0 -16.60,0ZM345.42,589.70a5.42,5.42 0 1,0 10.84,0a5.42,5.42 0 1,0 -10.84,0ZM345.68,589.70a5.16,5.16 0 1,0 10.32,0a5.16,5.16 0 1,0 -10.32,0Z" fill="#008000" fill-opacity="0.44" fill-rule="evenodd"/>
<path d="M370.33,634.10a8.3,8.3 0 1,0 16.60,0a8.3,8.3 0 1,0 -16.60,0ZM373.21,634.10a5.42,5.42 0 1,0 10.84,0a5.42,5.42 0 1,0 -10.84,0ZM373.47,634.10a5.16,5.16 0 1,0 10.32,0a5.16,5.16 0 1,0 -10.32,0Z" fill="#008000" fill-opacity="0.44" fill-rule="evenodd"/>
<path d="M398.12,694.90a8.3,8.3 0 1,0 16.60,0a8.3,8.3 0 1,0 -16.60,0ZM401.00,694.90a5.42,5.42 0 1,0 10.84,0a5.42,5.42 0 1,0 -10.84,0ZM401.26,694.90a5.16,5.16 0 1,0 10.32,0a5.16,5.16 0 1,0 -10.32,0Z" fill="#008000" fill-opacity="0.44" fill-rule="evenodd"/>
<path d="M425.91,699.10a8.3,8.3 0 1,0 16.60,0a8.3,8.3 0 1,0 -16.60,0ZM428.79,699.10a5.42,5.42 0 1,0 10.84,0a5.42,5.42 0 1,0 -10.84,0ZM429.05,699.10a5.16,5.16 0 1,0 10.32,0a5.16,5.16 0 1,0 -10.32,0Z" fill="#008000" fill-opacity="0.44" fill-rule="evenodd"/>
<path d="M453.70,720.20a8.3,8.3 0 1,0 16.60,0a8.3,8.3 0 1,0 -16.60,0ZM456.58,720.20a5.42,5.42 0 1,0 10.84,0a5.42,5.42 0 1,0 -10.84,0ZM456.84,720.20a5.16,5.16 0 1,0 10.32,0a5.16,5.16 0 1,0 -10.32,0Z" fill="#008000" fill-opacity="0.44" fill-rule="evenodd"/>
<path d="M481.49,696.60a8.3,8.3 0 1,0 16.60,0a8.3,8.3 0 1,0 -16.60,0ZM484.37,696.60a5.42,5.42 0 1,0 10.84,0a5.42,5.42 0 1,0 -10.84,0ZM484.63,696.60a5.16,5.16 0 1,0 10.32,0a5.16,5.16 0 1,0 -10.32,0Z" fill="#008000" fill-opacity="0.44" fill-rule="evenodd"/>
<path d="M509.28,663.00a8.3,8.3 0 1,0 16.60,0a8.3,8.3 0 1,0 -16.60,0ZM512.16,663.00a5.42,5.42 0 1,0 10.84,0a5.42,5.42 0 1,0 -10.84,0ZM512.42,663.00a5.16,5.16 0 1,0 10.32,0a5.16,5.16 0 1,0 -10.32,0Z" fill="#008000" fill-opacity="0.44" fill-rule="evenodd"/>
<path d="M537.07,663.50a8.3,8.3 0 1,0 16.60,0a8.3,8.3 0 1,0 -16.60,0ZM539.95,663.50a5.42,5.42 0 1,0 10.84,0a5.42,5.42 0 1,0 -10.84,0ZM540.21,663.50a5.16,5.16 0 1,0 10.32,0a5.16,5.16 0 1,0 -10.32,0Z" fill="#008000" fill-opacity="0.44" fill-rule="evenodd"/>
<path d="M564.86,668.70a8.3,8.3 0 1,0 16.60,0a8.3,8.3 0 1,0 -16.60,0ZM567.74,668.70a5.42,5.42 0 1,0 10.84,0a5.42,5.42 0 1,0 -10.84,0ZM568.00,668.70a5.16,5.16 0 1,0 10.32,0a5.16,5.16 0 1,0 -10.32,0Z" fill="#008000" fill-opacity="0.44" fill-rule="evenodd"/>
<path d="M592.65,683.70a8.3,8.3 0 1,0 16.60,0a8.3,8.3 0 1,0 -16.60,0ZM595.53,683.70a5.42,5.42 0 1,0 10.84,0a5.42,5.42 0 1,0 -10.84,0ZM595.79,683.70a5.16,5.16 0 1,0 10.32,0a5.16,5.16 0 1,0 -10.32,0Z" fill="#008000" fill-opacity="0.44" fill-rule="evenodd"/>
<path d="M620.44,676.00a8.3,8.3 0 1,0 16.60,0a8.3,8.3 0 1,0 -16.60,0ZM623.32,676.00a5.42,5.42 0 1,0 10.84,0a5.42,5.42 0 1,0 -10.84,0ZM623.58,676.00a5.16,5.16 0 1,0 10.32,0a5.16,5.16 0 1,0 -10.32,0Z" fill="#008000" fill-opacity="0.44" fill-rule="evenodd"/>
<path d="M648.23,685.50a8.3,8.3 0 1,0 16.60,0a8.3,8.3 0 1,0 -16.60,0ZM651.11,685.50a5.42,5.42 0 1,0 10.84,0a5.42,5.42 0 1,0 -10.84,0ZM651.37,685.50a5.16,5.16 0 1,0 10.32,0a5.16,5.16 0 1,0 -10.32,0Z" fill="#008000" fill-opacity="0.44" fill-rule="evenodd"/>
<path d="M676.02,689.10a8.3,8.3 0 1,0 16.60,0a8.3,8.3 0 1,0 -16.60,0ZM678.90,689.10a5.42,5.42 0 1,0 10.84,0a5.42,5.42 0 1,0 -10.84,0ZM679.16,689.10a5.16,5.16 0 1,0 10.32,0a5.16,5.16 0 1,0 -10.32,0Z" fill="#008000" fill-opacity="0.44" fill-rule="evenodd"/>
<path d="M703.81,689.50a8.3,8.3 0 1,0 16.60,0a8.3,8.3 0 1,0 -16.60,0ZM706.69,689.50a5.42,5.42 0 1,0 10.84,0a5.42,5.42 0 1,0 -10.84,0ZM706.95,689.50a5.16,5.16 0 1,0 10.32,0a5.16,5.16 0 1,0 -10.32,0Z" fill="#008000" fill-opacity="0.44" fill-rule="evenodd"/>
<path d="M731.60,805.60a8.3,8.3 0 1,0 16.60,0a8.3,8.3 0 1,0 -16.60,0ZM734.48,805.60a5.42,5.42 0 1,0 10.84,0a5.42,5.42 0 1,0 -10.84,0ZM734.74,805.60a5.16,5.16 0 1,0 10.32,0a5.16,5.16 0 1,0 -10.32,0Z" fill="#008000" fill-opacity="0.44" fill-rule="evenodd"/>
<path d="M759.39,805.60a8.3,8.3 0 1,0 16.60,0a8.3,8.3 0 1,0 -16.60,0ZM762.27,805.60a5.42,5.42 0 1,0 10.84,0a5.42,5.42 0 1,0 -10.84,0ZM762.53,805.60a5.16,5.16 0 1,0 10.32,0a5.16,5.16 0 1,0 -10.32,0Z" fill="#008000" fill-opacity="0.44" fill-rule="evenodd"/>
<path d="M787.18,803.60a8.3,8.3 0 1,0 16.60,0a8.3,8.3 0 1,0 -16.60,0ZM790.06,803.60a5.42,5.42 0 1,0 10.84,0a5.42,5.42 0 1,0 -10.84,0ZM790.32,803.60a5.16,5.16 0 1,0 10.32,0a5.16,5.16 0 1,0 -10.32,0Z" fill="#008000" fill-opacity="0.44" fill-rule="evenodd"/>
<path d="M814.97,808.20a8.3,8.3 0 1,0 16.60,0a8.3,8.3 0 1,0 -16.60,0ZM817.85,808.20a5.42,5.42 0 1,0 10.84,0a5.42,5.42 0 1,0 -10.84,0ZM818.11,808.20a5.16,5.16 0 1,0 10.32,0a5.16,5.16 0 1,0 -10.32,0Z" fill="#008000" fill-opacity="0.44" fill-rule="evenodd"/>
<path d="M842.76,808.20a8.3,8.3 0 1,0 16.60,0a8.3,8.3 0 1,0 -16.60,0ZM845.64,808.20a5.42,5.42 0 1,0 10.84,0a5.42,5.42 0 1,0 -10.84,0ZM845.90,808.20a5.16,5.16 0 1,0 10.32,0a5.16,5.16 0 1,0 -10.32,0Z" fill="#008000" fill-opacity="0.44" fill-rule="evenodd"/>
<path d="M870.55,801.60a8.3,8.3 0 1,0 16.60,0a8.3,8.3 0 1,0 -16.60,0ZM873.43,801.60a5.42,5.42 0 1,0 10.84,0a5.42,5.42 0 1,0 -10.84,0ZM873.69,801.60a5.16,5.16 0 1,0 10.32,0a5.16,5.16 0 1,0 -10.32,0Z" fill="#008000" fill-opacity="0.44" fill-rule="evenodd"/>
<path d="M898.34,803.60a8.3,8.3 0 1,0 16.60,0a8.3,8.3 0 1,0 -16.60,0ZM901.22,803.60a5.42,5.42 0 1,0 10.84,0a5.42,5.42 0 1,0 -10.84,0ZM901.48,803.60a5.16,5.16 0 1,0 10.32,0a5.16,5.16 0 1,0 -10.32,0Z" fill="#008000" fill-opacity="0.44" fill-rule="evenodd"/>
<path d="M926.13,772.10a8.3,8.3 0 1,0 16.60,0a8.3,8.3 0 1,0 -16.60,0ZM929.01,772.10a5.42,5.42 0 1,0 10.84,0a5.42,5.42 0 1,0 -10.84,0ZM929.27,772.10a5.16,5.16 0 1,0 10.32,0a5.16,5.16 0 1,0 -10.32,0Z" fill="#008000" fill-opacity="0.44" fill-rule="evenodd"/>
</g>
<g opacity="1">
<polyline points="184.10,550.60 211.89,658.70 239.68,682.30 267.47,523.40 295.26,522.30 323.05,532.30 350.84,577.90 378.63,650.30 406.42,591.20 434.21,589.30 462.00,586.40 489.79,558.20 517.58,508.00 545.37,517.70 573.16,526.70 600.95,525.50 628.74,523.80 656.53,528.70 684.32,533.30 712.11,544.10 739.90,654.00 767.69,650.50 795.48,655.80 823.27,653.00 851.06,654.20 878.85,643.60 906.64,658.20 934.43,697.80" fill="none" stroke="#008000" stroke-opacity="0.3" stroke-width="8.33" stroke-linejoin="round" stroke-linecap="square"/>
<path d="M175.80,550.60a8.3,8.3 0 1,0 16.60,0a8.3,8.3 0 1,0 -16.60,0ZM178.68,550.60a5.42,5.42 0 1,0 10.84,0a5.42,5.42 0 1,0 -10.84,0ZM178.94,550.60a5.16,5.16 0 1,0 10.32,0a5.16,5.16 0 1,0 -10.32,0Z" fill="#008000" fill-opacity="0.3" fill-rule="evenodd"/>
<path d="M203.59,658.70a8.3,8.3 0 1,0 16.60,0a8.3,8.3 0 1,0 -16.60,0ZM206.47,658.70a5.42,5.42 0 1,0 10.84,0a5.42,5.42 0 1,0 -10.84,0ZM206.73,658.70a5.16,5.16 0 1,0 10.32,0a5.16,5.16 0 1,0 -10.32,0Z" fill="#008000" fill-opacity="0.3" fill-rule="evenodd"/>
<path d="M231.38,682.30a8.3,8.3 0 1,0 16.60,0a8.3,8.3 0 1,0 -16.60,0ZM234.26,682.30a5.42,5.42 0 1,0 10.84,0a5.42,5.42 0 1,0 -10.84,0ZM234.52,682.30a5.16,5.16 0 1,0 10.32,0a5.16,5.16 0 1,0 -10.32,0Z" fill="#008000" fill-opacity="0.3" fill-rule="evenodd"/>
<path d="M259.17,523.40a8.3,8.3 0 1,0 16.60,0a8.3,8.3 0 1,0 -16.60,0ZM262.05,523.40a5.42,5.42 0 1,0 10.84,0a5.42,5.42 0 1,0 -10.84,0ZM262.31,523.40a5.16,5.16 0 1,0 10.32,0a5.16,5.16 0 1,0 -10.32,0Z" fill="#008000" fill-opacity="0.3" fill-rule="evenodd"/>
<path d="M286.96,522.30a8.3,8.3 0 1,0 16.60,0a8.3,8.3 0 1,0 -16.60,0ZM289.84,522.30a5.42,5.42 0 1,0 10.84,0a5.42,5.42 0 1,0 -10.84,0ZM290.10,522.30a5.16,5.16 0 1,0 10.32,0a5.16,5.16 0 1,0 -10.32,0Z" fill="#008000" fill-opacity="0.3" fill-rule="evenodd"/>
<path d="M314.75,532.30a8.3,8.3 0 1,0 16.60,0a8.3,8.3 0 1,0 -16.60,0ZM317.63,532.30a5.42,5.42 0 1,0 10.84,0a5.42,5.42 0 1,0 -10.84,0ZM317.89,532.30a5.16,5.16 0 1,0 10.32,0a5.16,5.16 0 1,0 -10.32,0Z" fill="#008000" fill-opacity="0.3" fill-rule="evenodd"/>
<path d="M342.54,577.90a8.3,8.3 0 1,0 16.60,0a8.3,8.3 0 1,0 -16.60,0ZM345.42,577.90a5.42,5.42 0 1,0 10.84,0a5.42,5.42 0 1,0 -10.84,0ZM345.68,577.90a5.16,5.16 0 1,0 10.32,0a5.16,5.16 0 1,0 -10.32,0Z" fill="#008000" fill-opacity="0.3" fill-rule="evenodd"/>
<path d="M370.33,650.30a8.3,8.3 0 1,0 16.60,0a8.3,8.3 0 1,0 -16.60,0ZM373.21,650.30a5.42,5.42 0 1,0 10.84,0a5.42,5.42 0 1,0 -10.84,0ZM373.47,650.30a5.16,5.16 0 1,0 10.32,0a5.16,5.16 0 1,0 -10.32,0Z" fill="#008000" fill-opacity="0.3" fill-rule="evenodd"/>
<path d="M398.12,591.20a8.3,8.3 0 1,0 16.60,0a8.3,8.3 0 1,0 -16.60,0ZM401.00,591.20a5.42,5.42 0 1,0 10.84,0a5.42,5.42 0 1,0 -10.84,0ZM401.26,591.20a5.16,5.16 0 1,0 10.32,0a5.16,5.16 0 1,0 -10.32,0Z" fill="#008000" fill-opacity="0.3" fill-rule="evenodd"/>
<path d="M425.91,589.30a8.3,8.3 0 1,0 16.60,0a8.3,8.3 0 1,0 -16.60,0ZM428.79,589.30a5.42,5.42 0 1,0 10.84,0a5.42,5.42 0 1,0 -10.84,0ZM429.05,589.30a5.16,5.16 0 1,0 10.32,0a5.16,5.16 0 1,0 -10.32,0Z" fill="#008000" fill-opacity="0.3" fill-rule="evenodd"/>
<path d="M453.70,586.40a8.3,8.3 0 1,0 16.60,0a8.3,8.3 0 1,0 -16.60,0ZM456.58,586.40a5.42,5.42 0 1,0 10.84,0a5.42,5.42 0 1,0 -10.84,0ZM456.84,586.40a5.16,5.16 0 1,0 10.32,0a5.16,5.16 0 1,0 -10.32,0Z" fill="#008000" fill-opacity="0.3" fill-rule="evenodd"/>
<path d="M481.49,558.20a8.3,8.3 0 1,0 16.60,0a8.3,8.3 0 1,0 -16.60,0ZM484.37,558.20a5.42,5.42 0 1,0 10.84,0a5.42,5.42 0 1,0 -10.84,0ZM484.63,558.20a5.16,5.16 0 1,0 10.32,0a5.16,5.16 0 1,0 -10.32,0Z" fill="#008000" fill-opacity="0.3" fill-rule="evenodd"/>
<path d="M509.28,508.00a8.3,8.3 0 1,0 16.60,0a8.3,8.3 0 1,0 -16.60,0ZM512.16,508.00a5.42,5.42 0 1,0 10.84,0a5.42,5.42 0 1,0 -10.84,0ZM512.42,508.00a5.16,5.16 0 1,0 10.32,0a5.16,5.16 0 1,0 -10.32,0Z" fill="#008000" fill-opacity="0.3" fill-rule="evenodd"/>
<path d="M537.07,517.70a8.3,8.3 0 1,0 16.60,0a8.3,8.3 0 1,0 -16.60,0ZM539.95,517.70a5.42,5.42 0 1,0 10.84,0a5.42,5.42 0 1,0 -10.84,0ZM540.21,517.70a5.16,5.16 0 1,0 10.32,0a5.16,5.16 0 1,0 -10.32,0Z" fill="#008000" fill-opacity="0.3" fill-rule="evenodd"/>
<path d="M564.86,526.70a8.3,8.3 0 1,0 16.60,0a8.3,8.3 0 1,0 -16.60,0ZM567.74,526.70a5.42,5.42 0 1,0 10.84,0a5.42,5.42 0 1,0 -10.84,0ZM568.00,526.70a5.16,5.16 0 1,0 10.32,0a5.16,5.16 0 1,0 -10.32,0Z" fill="#008000" fill-opacity="0.3" fill-rule="evenodd"/>
<path d="M592.65,525.50a8.3,8.3 0 1,0 16.60,0a8.3,8.3 0 1,0 -16.60,0ZM595.53,525.50a5.42,5.42 0 1,0 10.84,0a5.42,5.42 0 1,0 -10.84,0ZM595.79,525.50a5.16,5.16 0 1,0 10.32,0a5.16,5.16 0 1,0 -10.32,0Z" fill="#008000" fill-opacity="0.3" fill-rule="evenodd"/>
<path d="M620.44,523.80a8.3,8.3 0 1,0 16.60,0a8.3,8.3 0 1,0 -16.60,0ZM623.32,523.80a5.42,5.42 0 1,0 10.84,0a5.42,5.42 0 1,0 -10.84,0ZM623.58,523.80a5.16,5.16 0 1,0 10.32,0a5.16,5.16 0 1,0 -10.32,0Z" fill="#008000" fill-opacity="0.3" fill-rule="evenodd"/>
<path d="M648.23,528.70a8.3,8.3 0 1,0 16.60,0a8.3,8.3 0 1,0 -16.60,0ZM651.11,528.70a5.42,5.42 0 1,0 10.84,0a5.42,5.42 0 1,0 -10.84,0ZM651.37,528.70a5.16,5.16 0 1,0 10.32,0a5.16,5.16 0 1,0 -10.32,0Z" fill="#008000" fill-opacity="0.3" fill-rule="evenodd"/>
<path d="M676.02,533.30a8.3,8.3 0 1,0 16.60,0a8.3,8.3 0 1,0 -16.60,0ZM678.90,533.30a5.42,5.42 0 1,0 10.84,0a5.42,5.42 0 1,0 -10.84,0ZM679.16,533.30a5.16,5.16 0 1,0 10.32,0a5.16,5.16 0 1,0 -10.32,0Z" fill="#008000" fill-opacity="0.3" fill-rule="evenodd"/>
<path d="M703.81,544.10a8.3,8.3 0 1,0 16.60,0a8.3,8.3 0 1,0 -16.60,0ZM706.69,544.10a5.42,5.42 0 1,0 10.84,0a5.42,5.42 0 1,0 -10.84,0ZM706.95,544.10a5.16,5.16 0 1,0 10.32,0a5.16,5.16 0 1,0 -10.32,0Z" fill="#008000" fill-opacity="0.3" fill-rule="evenodd"/>
<path d="M731.60,654.00a8.3,8.3 0 1,0 16.60,0a8.3,8.3 0 1,0 -16.60,0ZM734.48,654.00a5.42,5.42 0 1,0 10.84,0a5.42,5.42 0 1,0 -10.84,0ZM734.74,654.00a5.16,5.16 0 1,0 10.32,0a5.16,5.16 0 1,0 -10.32,0Z" fill="#008000" fill-opacity="0.3" fill-rule="evenodd"/>
<path d="M759.39,650.50a8.3,8.3 0 1,0 16.60,0a8.3,8.3 0 1,0 -16.60,0ZM762.27,650.50a5.42,5.42 0 1,0 10.84,0a5.42,5.42 0 1,0 -10.84,0ZM762.53,650.50a5.16,5.16 0 1,0 10.32,0a5.16,5.16 0 1,0 -10.32,0Z" fill="#008000" fill-opacity="0.3" fill-rule="evenodd"/>
<path d="M787.18,655.80a8.3,8.3 0 1,0 16.60,0a8.3,8.3 0 1,0 -16.60,0ZM790.06,655.80a5.42,5.42 0 1,0 10.84,0a5.42,5.42 0 1,0 -10.84,0ZM790.32,655.80a5.16,5.16 0 1,0 10.32,0a5.16,5.16 0 1,0 -10.32,0Z" fill="#008000" fill-opacity="0.3" fill-rule="evenodd"/>
<path d="M814.97,653.00a8.3,8.3 0 1,0 16.60,0a8.3,8.3 0 1,0 -16.60,0ZM817.85,653.00a5.42,5.42 0 1,0 10.84,0a5.42,5.42 0 1,0 -10.84,0ZM818.11,653.00a5.16,5.16 0 1,0 10.32,0a5.16,5.16 0 1,0 -10.32,0Z" fill="#008000" fill-opacity="0.3" fill-rule="evenodd"/>
<path d="M842.76,654.20a8.3,8.3 0 1,0 16.60,0a8.3,8.3 0 1,0 -16.60,0ZM845.64,654.20a5.42,5.42 0 1,0 10.84,0a5.42,5.42 0 1,0 -10.84,0ZM845.90,654.20a5.16,5.16 0 1,0 10.32,0a5.16,5.16 0 1,0 -10.32,0Z" fill="#008000" fill-opacity="0.3" fill-rule="evenodd"/>
<path d="M870.55,643.60a8.3,8.3 0 1,0 16.60,0a8.3,8.3 0 1,0 -16.60,0ZM873.43,643.60a5.42,5.42 0 1,0 10.84,0a5.42,5.42 0 1,0 -10.84,0ZM873.69,643.60a5.16,5.16 0 1,0 10.32,0a5.16,5.16 0 1,0 -10.32,0Z" fill="#008000" fill-opacity="0.3" fill-rule="evenodd"/>
<path d="M898.34,658.20a8.3,8.3 0 1,0 16.60,0a8.3,8.3 0 1,0 -16.60,0ZM901.22,658.20a5.42,5.42 0 1,0 10.84,0a5.42,5.42 0 1,0 -10.84,0ZM901.48,658.20a5.16,5.16 0 1,0 10.32,0a5.16,5.16 0 1,0 -10.32,0Z" fill="#008000" fill-opacity="0.3" fill-rule="evenodd"/>
<path d="M926.13,697.80a8.3,8.3 0 1,0 16.60,0a8.3,8.3 0 1,0 -16.60,0ZM929.01,697.80a5.42,5.42 0 1,0 10.84,0a5.42,5.42 0 1,0 -10.84,0ZM929.27,697.80a5.16,5.16 0 1,0 10.32,0a5.16,5.16 0 1,0 -10.32,0Z" fill="#008000" fill-opacity="0.3" fill-rule="evenodd"/>
</g>
</g>
<g stroke="#000" stroke-width="2.1" fill="none" stroke-linecap="square">
<line x1="146.75" y1="25.0" x2="146.75" y2="864.1"/>
<line x1="146.75" y1="864.1" x2="971.9" y2="864.1"/>
</g>
<g stroke="#000" stroke-width="1.7">
<line x1="184.10" y1="864.1" x2="184.10" y2="872.7"/>
<line x1="323.05" y1="864.1" x2="323.05" y2="872.7"/>
<line x1="462.00" y1="864.1" x2="462.00" y2="872.7"/>
<line x1="600.95" y1="864.1" x2="600.95" y2="872.7"/>
<line x1="739.90" y1="864.1" x2="739.90" y2="872.7"/>
<line x1="878.85" y1="864.1" x2="878.85" y2="872.7"/>
<line x1="138.75" y1="793.40" x2="146.75" y2="793.40"/>
<line x1="138.75" y1="642.88" x2="146.75" y2="642.88"/>
<line x1="138.75" y1="492.36" x2="146.75" y2="492.36"/>
<line x1="138.75" y1="341.84" x2="146.75" y2="341.84"/>
<line x1="138.75" y1="191.32" x2="146.75" y2="191.32"/>
<line x1="138.75" y1="40.80" x2="146.75" y2="40.80"/>
</g>
<g font-family="'Liberation Serif','Times New Roman',serif" font-weight="bold" font-size="38.5" fill="#000">
<text x="184.10" y="905.0" text-anchor="middle">0</text>
<text x="323.05" y="905.0" text-anchor="middle">5</text>
<text x="462.00" y="905.0" text-anchor="middle">10</text>
<text x="600.95" y="905.0" text-anchor="middle">15</text>
<text x="739.90" y="905.0" text-anchor="middle">20</text>
<text x="878.85" y="905.0" text-anchor="middle">25</text>
<text x="131.1" y="806.50" text-anchor="end">0.4</text>
<text x="131.1" y="655.98" text-anchor="end">0.5</text>
<text x="131.1" y="505.46" text-anchor="end">0.6</text>
<text x="131.1" y="354.94" text-anchor="end">0.7</text>
<text x="131.1" y="204.42" text-anchor="end">0.8</text>
<text x="131.1" y="53.90" text-anchor="end">0.9</text>
</g>
<text transform="translate(558.9,959.7) scale(1,1.03)" x="0" y="0" text-anchor="middle" font-family="'Liberation Serif','Times New Roman',serif" font-weight="bold" font-size="55.5" fill="#000">Layer Index (0 to 27)</text>
<text transform="translate(63.7,444.6) rotate(-90) scale(1,1.02)" x="0" y="0" text-anchor="middle" font-family="'Liberation Serif','Times New Roman',serif" font-weight="bold" font-size="55.5" fill="#000">CKNNA Value</text>
<rect x="682.5" y="43.9" width="271.0" height="389.5" rx="6" ry="6" fill="#ffffff" fill-opacity="0.8" stroke="#cccccc" stroke-opacity="0.8" stroke-width="2"/>
<text x="697.0" y="86.6" font-family="'DejaVu Sans','Liberation Sans',sans-serif" font-size="36.9" fill="#000">Training Step</text>
<line x1="719.0" y1="127.55" x2="792.7" y2="127.55" stroke="#008000" stroke-opacity="1.0" stroke-width="8.33" stroke-linecap="square"/>
<circle cx="755.80" cy="127.55" r="8.3" fill="#008000"/>
<text x="822.0" y="140.05" font-family="'DejaVu Sans','Liberation Sans',sans-serif" font-size="36.9" fill="#000">50K</text>
<line x1="719.0" y1="181.78" x2="792.7" y2="181.78" stroke="#008000" stroke-opacity="0.86" stroke-width="8.33" stroke-linecap="square"/>
<path d="M747.50,181.78a8.3,8.3 0 1,0 16.60,0a8.3,8.3 0 1,0 -16.60,0ZM750.38,181.78a5.42,5.42 0 1,0 10.84,0a5.42,5.42 0 1,0 -10.84,0ZM750.64,181.78a5.16,5.16 0 1,0 10.32,0a5.16,5.16 0 1,0 -10.32,0Z" fill="#008000" fill-opacity="0.86" fill-rule="evenodd"/>
<text x="822.0" y="194.28" font-family="'DejaVu Sans','Liberation Sans',sans-serif" font-size="36.9" fill="#000">100K</text>
<line x1="719.0" y1="236.01" x2="792.7" y2="236.01" stroke="#008000" stroke-opacity="0.72" stroke-width="8.33" stroke-linecap="square"/>
<path d="M747.50,236.01a8.3,8.3 0 1,0 16.60,0a8.3,8.3 0 1,0 -16.60,0ZM750.38,236.01a5.42,5.42 0 1,0 10.84,0a5.42,5.42 0 1,0 -10.84,0ZM750.64,236.01a5.16,5.16 0 1,0 10.32,0a5.16,5.16 0 1,0 -10.32,0Z" fill="#008000" fill-opacity="0.72" fill-rule="evenodd"/>
<text x="822.0" y="248.51" font-family="'DejaVu Sans','Liberation Sans',sans-serif" font-size="36.9" fill="#000">200K</text>
<line x1="719.0" y1="290.24" x2="792.7" y2="290.24" stroke="#008000" stroke-opacity="0.58" stroke-width="8.33" stroke-linecap="square"/>
<path d="M747.50,290.24a8.3,8.3 0 1,0 16.60,0a8.3,8.3 0 1,0 -16.60,0ZM750.38,290.24a5.42,5.42 0 1,0 10.84,0a5.42,5.42 0 1,0 -10.84,0ZM750.64,290.24a5.16,5.16 0 1,0 10.32,0a5.16,5.16 0 1,0 -10.32,0Z" fill="#008000" fill-opacity="0.58" fill-rule="evenodd"/>
<text x="822.0" y="302.74" font-family="'DejaVu Sans','Liberation Sans',sans-serif" font-size="36.9" fill="#000">300K</text>
<line x1="719.0" y1="344.47" x2="792.7" y2="344.47" stroke="#008000" stroke-opacity="0.44" stroke-width="8.33" stroke-linecap="square"/>
<path d="M747.50,344.47a8.3,8.3 0 1,0 16.60,0a8.3,8.3 0 1,0 -16.60,0ZM750.38,344.47a5.42,5.42 0 1,0 10.84,0a5.42,5.42 0 1,0 -10.84,0ZM750.64,344.47a5.16,5.16 0 1,0 10.32,0a5.16,5.16 0 1,0 -10.32,0Z" fill="#008000" fill-opacity="0.44" fill-rule="evenodd"/>
<text x="822.0" y="356.97" font-family="'DejaVu Sans','Liberation Sans',sans-serif" font-size="36.9" fill="#000">400K</text>
<line x1="719.0" y1="398.70" x2="792.7" y2="398.70" stroke="#008000" stroke-opacity="0.3" stroke-width="8.33" stroke-linecap="square"/>
<path d="M747.50,398.70a8.3,8.3 0 1,0 16.60,0a8.3,8.3 0 1,0 -16.60,0ZM750.38,398.70a5.42,5.42 0 1,0 10.84,0a5.42,5.42 0 1,0 -10.84,0ZM750.64,398.70a5.16,5.16 0 1,0 10.32,0a5.16,5.16 0 1,0 -10.32,0Z" fill="#008000" fill-opacity="0.3" fill-rule="evenodd"/>
<text x="822.0" y="411.20" font-family="'DejaVu Sans','Liberation Sans',sans-serif" font-size="36.9" fill="#000">500K</text>
</svg></body></html>
